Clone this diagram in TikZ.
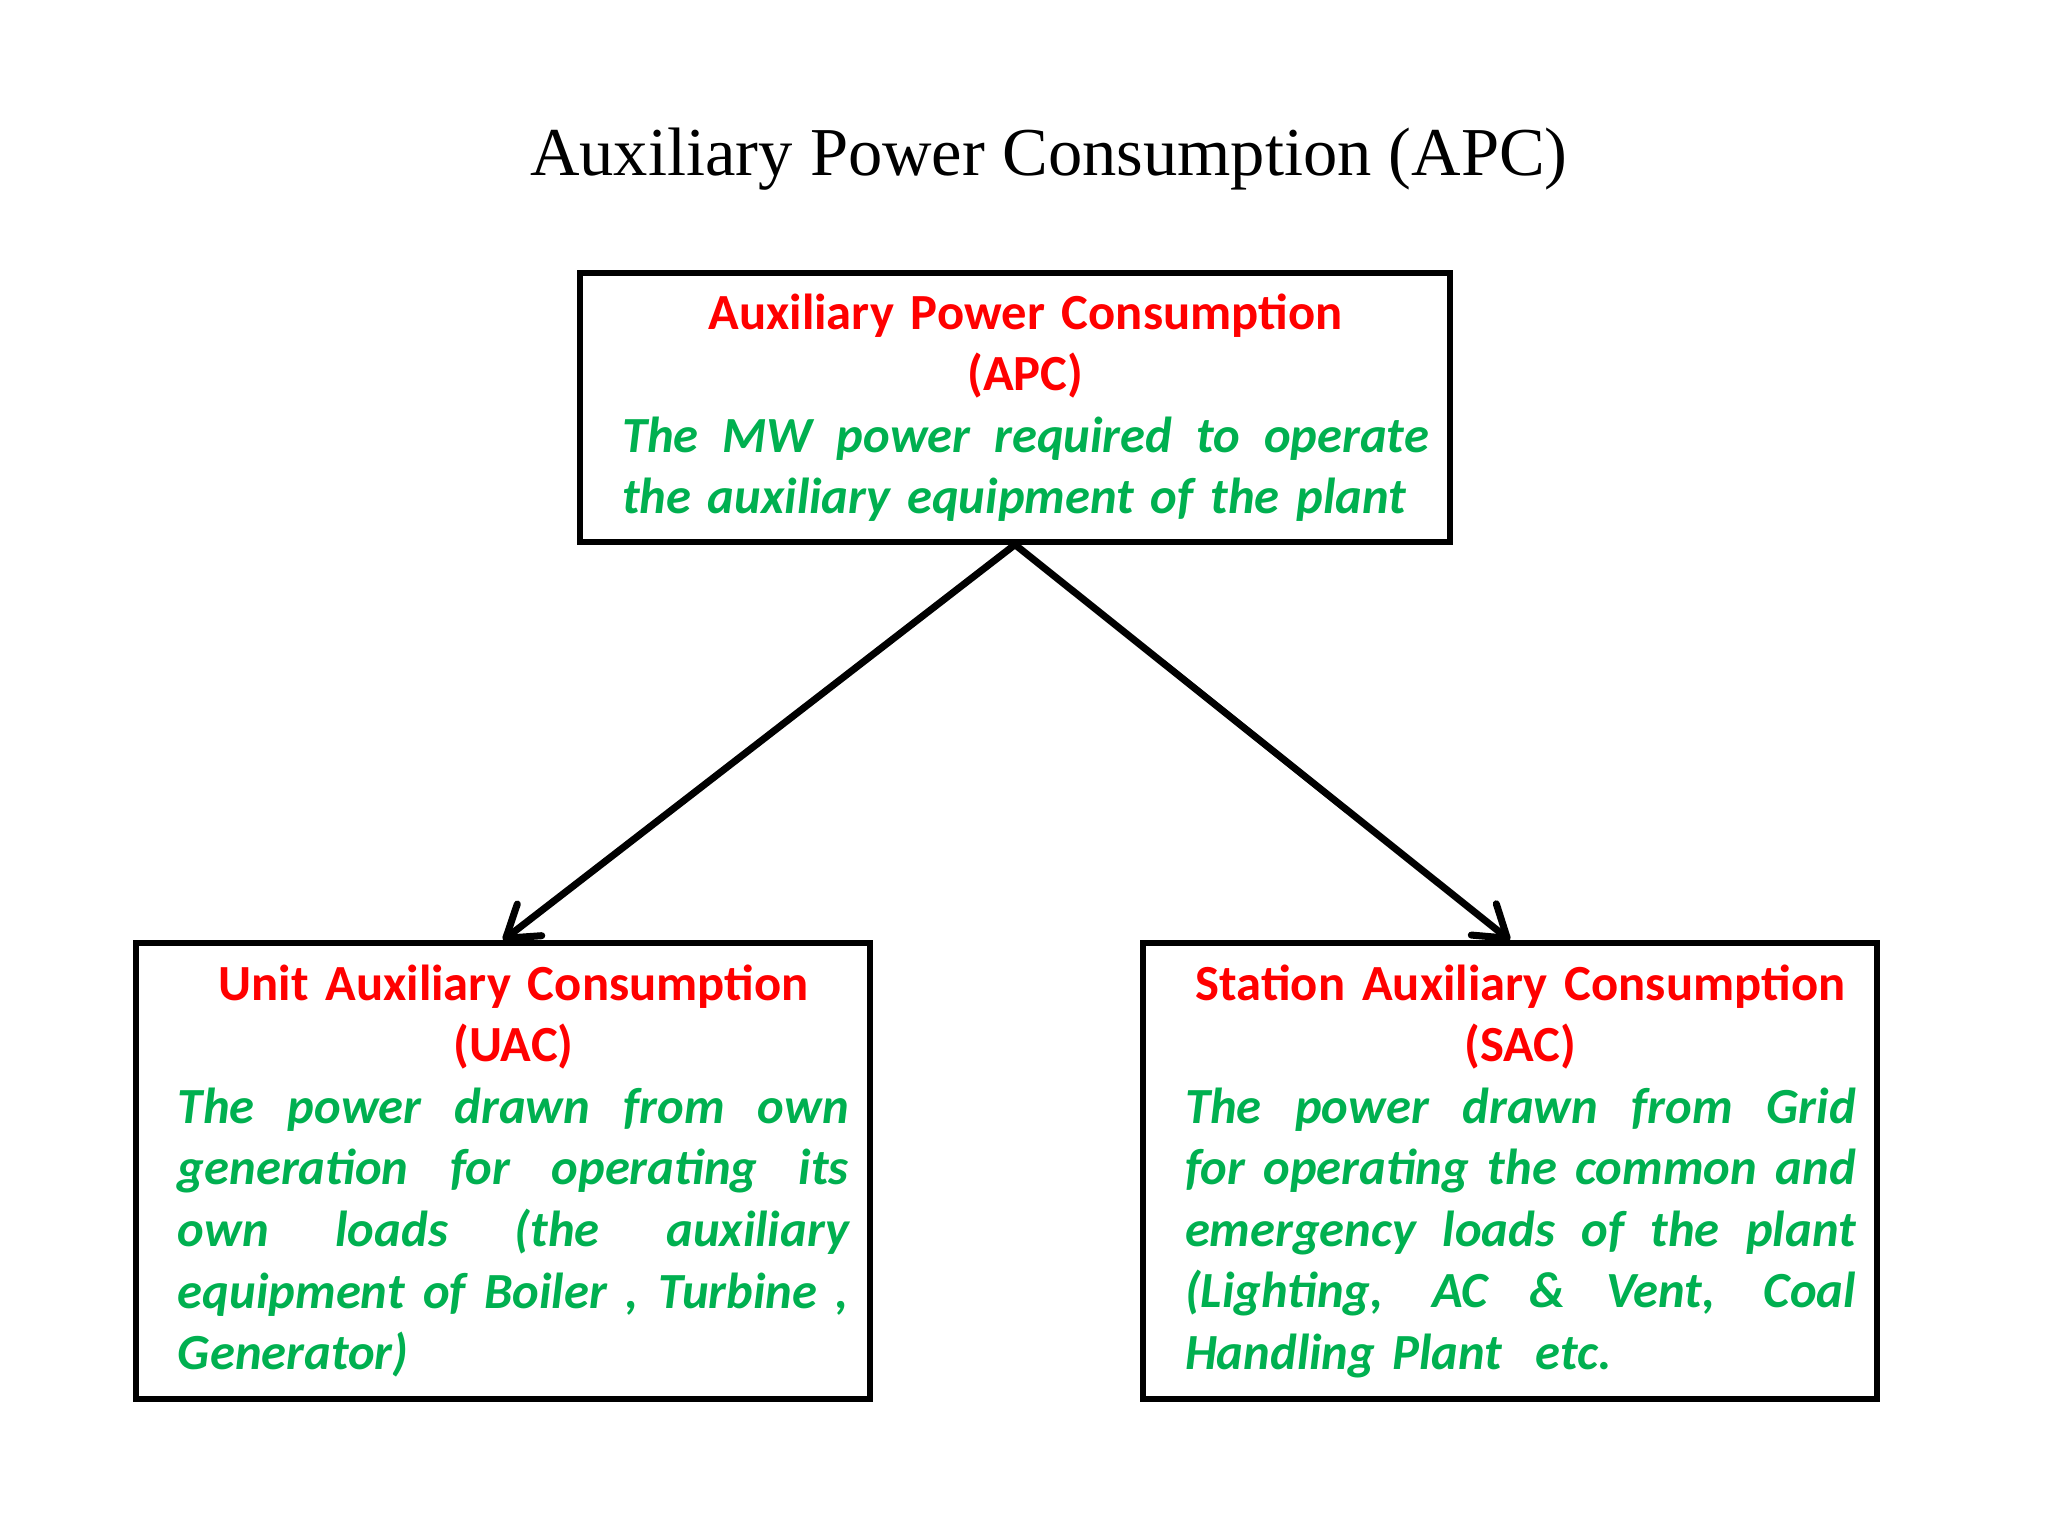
\documentclass[tikz,border=0pt]{standalone}
\usepackage{fontspec}
\setmainfont{Carlito}
\newfontfamily\titlefont{Liberation Serif}
\usetikzlibrary{arrows.meta}
\definecolor{headred}{RGB}{255,0,0}
\definecolor{textgreen}{RGB}{0,176,80}
\newcommand{\headline}[1]{\hspace*{2.1mm}\makebox[\dimexpr\linewidth-2.1mm\relax]{\color{headred}#1}\par}
\newcommand{\fullline}[1]{\hspace*{2.1mm}\hbox to \dimexpr\linewidth-2.1mm\relax{%
    \color{textgreen}\itshape\spaceskip=\fontdimen2\font plus 1fil #1}\par}
\newcommand{\lastline}[1]{\hspace*{2.1mm}{\color{textgreen}\itshape #1}\par}
\tikzset{
    apcbox/.style={draw, line width=1.5pt, fill=white, inner xsep=2.1mm, inner ysep=0pt,
        font=\bfseries\fontsize{14.4}{17.5}\selectfont},
    flowarrow/.style={line width=2pt, line cap=round,
        -{Straight Barb[length=3mm,width=4mm,line width=2pt,round]}}
}
\begin{document}
\begin{tikzpicture}
                \fill[white] (0,0) rectangle (20.48,-15.36);
                \useasboundingbox (0,0) rectangle (20.48,-15.36);

                \node[anchor=base, font=\titlefont\fontsize{19.5}{23}\selectfont] 
                    (title) at (10.49,-1.76) {Auxiliary Power Consumption (APC)};

                \node[apcbox, text width=8.28cm, minimum height=2.69cm] 
                    (apc) at (10.15,-4.075) {%
                    \headline{Auxiliary Power Consumption}
                    \headline{(APC)}
                    \fullline{The MW power required to operate}
                    \lastline{the auxiliary equipment of the plant}};
                \node[apcbox, text width=6.92cm, minimum height=4.56cm] 
                    (uac) at (5.03,-11.71) {%
                    \headline{Unit Auxiliary Consumption}
                    \headline{(UAC)}
                    \fullline{The power drawn from own}
                    \fullline{generation for operating its}
                    \fullline{own loads (the auxiliary}
                    \fullline{equipment of Boiler , Turbine ,}
                    \lastline{Generator)}};
                \node[apcbox, text width=6.92cm, minimum height=4.56cm] 
                    (sac) at (15.10,-11.71) {%
                    \headline{Station Auxiliary Consumption}
                    \headline{(SAC)}
                    \fullline{The power drawn from Grid}
                    \fullline{for operating the common and}
                    \fullline{emergency loads of the plant}
                    \fullline{(Lighting, AC \& Vent, Coal}
                    \lastline{Handling Plant\ \ etc.}};

                \draw[flowarrow] (apc.south) -- (uac.north);
                \draw[flowarrow] (apc.south) -- (sac.north);
            \end{tikzpicture}
\end{document}
